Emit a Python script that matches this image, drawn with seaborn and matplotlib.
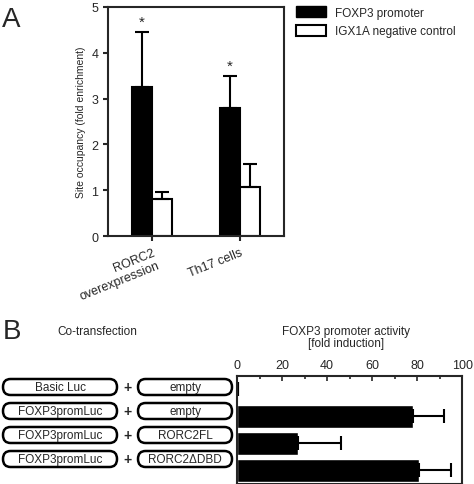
import numpy as np
import pandas as pd
import seaborn as sns
import matplotlib.pyplot as plt
from matplotlib.patches import Patch, FancyBboxPatch

sns.set_style("ticks")
plt.rcParams['font.family'] = ['Liberation Sans', 'DejaVu Sans']

# panel A data
conditions = ["RORC2\noverexpression", "Th17 cells"]
series = ["FOXP3 promoter", "IGX1A negative control"]
foxp3_vals = [3.25, 2.8]
foxp3_err = [1.2, 0.68]
igx_vals = [0.8, 1.08]
igx_err = [0.17, 0.5]

# panel B data
constructs = ["Basic Luc", "FOXP3promLuc", "FOXP3promLuc", "FOXP3promLuc"]
cotrans = ["empty", "empty", "RORC2FL", "RORC2\u0394DBD"]
activity = [0.6, 78, 27, 81]
activity_err = [0, 14, 19, 14]

fig = plt.figure(figsize=(4.74, 4.85), dpi=100)

# ---- panel A
axA = fig.add_axes([0.228, 0.511, 0.371, 0.473])
dfA = pd.DataFrame({
    "cond": conditions * 2,
    "series": [series[0]] * 2 + [series[1]] * 2,
    "val": foxp3_vals + igx_vals,
})
sns.barplot(data=dfA, x="cond", y="val", hue="series", palette=["black", "white"],
            edgecolor="black", linewidth=1.5, width=0.45, gap=0, ax=axA, legend=False)
errs = {series[0]: foxp3_err, series[1]: igx_err}
for cont, s in zip(axA.containers, series):
    for bar, e in zip(cont, errs[s]):
        x = bar.get_x() + bar.get_width() / 2
        h = bar.get_height()
        axA.errorbar(x, h, yerr=[[0], [e]], color="black", capsize=5, elinewidth=1.5, capthick=1.5)
        if s == series[0]:
            axA.text(x, h + e + 0.08, "*", ha="center", va="bottom", fontsize=11)
axA.set_ylim(0, 5)
axA.set_xlim(-0.5, 1.5)
axA.set_yticks([0, 1, 2, 3, 4, 5])
axA.set_xlabel("")
axA.set_ylabel("Site occupancy (fold enrichment)", fontsize=7.5)
axA.set_xticks([0, 1])
axA.set_xticklabels(conditions, rotation=22, ha="right", rotation_mode="anchor", fontsize=9)
for sp in axA.spines.values():
    sp.set_linewidth(1.5)
axA.tick_params(width=1.5, labelsize=9)
fig.legend(handles=[Patch(facecolor="black", edgecolor="black", label=series[0]),
                    Patch(facecolor="white", edgecolor="black", linewidth=1.5, label=series[1])],
           loc="upper left", bbox_to_anchor=(0.615, 0.995), frameon=False, fontsize=8.5,
           handlelength=2.5, handleheight=1.1, borderaxespad=0)
fig.text(0.005, 0.985, "A", fontsize=20, va="top")

# ---- panel B
axB = fig.add_axes([0.5, 0.0, 0.475, 0.223])
dfB = pd.DataFrame({"row": [f"r{i}" for i in range(4)], "val": activity})
sns.barplot(data=dfB, y="row", x="val", color="black", width=0.85, ax=axB)
axB.errorbar(activity, range(4), xerr=[[0] * 4, activity_err], fmt="none",
             color="black", capsize=5, elinewidth=1.5, capthick=1.5)
axB.set_xlim(0, 100)
axB.set_ylim(3.5, -0.5)
axB.set_xticks(range(0, 101, 20))
axB.set_xticks(range(10, 100, 20), minor=True)
axB.xaxis.tick_top()
axB.tick_params(axis="x", which="both", direction="in", width=1.2, labelsize=9)
axB.set_yticks([])
axB.set_ylabel("")
axB.set_xlabel("")
for sp in axB.spines.values():
    sp.set_linewidth(1.5)

fig.text(0.005, 0.315, "B", fontsize=20, va="center")
fig.text(0.12, 0.315, "Co-transfection", fontsize=8.5, va="center")
fig.text(0.73, 0.303, "FOXP3 promoter activity\n[fold induction]", fontsize=8.5,
         va="center", ha="center", linespacing=1.0)
W, H = 474, 485
for i in range(4):
    yc = 388 + 24 * i
    for (x0, x1, txt) in [(3, 117, constructs[i]), (138, 232, cotrans[i])]:
        fig.patches.append(FancyBboxPatch((x0 / W, (H - yc - 8) / H), (x1 - x0) / W, 16 / H,
                                          boxstyle="round,pad=0,rounding_size=0.016",
                                          transform=fig.transFigure, fc="white", ec="black",
                                          lw=1.8, mutation_aspect=H / W))
        fig.text((x0 + x1) / 2 / W, 1 - yc / H, txt, fontsize=8.5, ha="center", va="center")
    fig.text(127 / W, 1 - yc / H, "+", fontsize=10, ha="center", va="center", weight="bold")

fig.savefig("out.png", dpi=100)
